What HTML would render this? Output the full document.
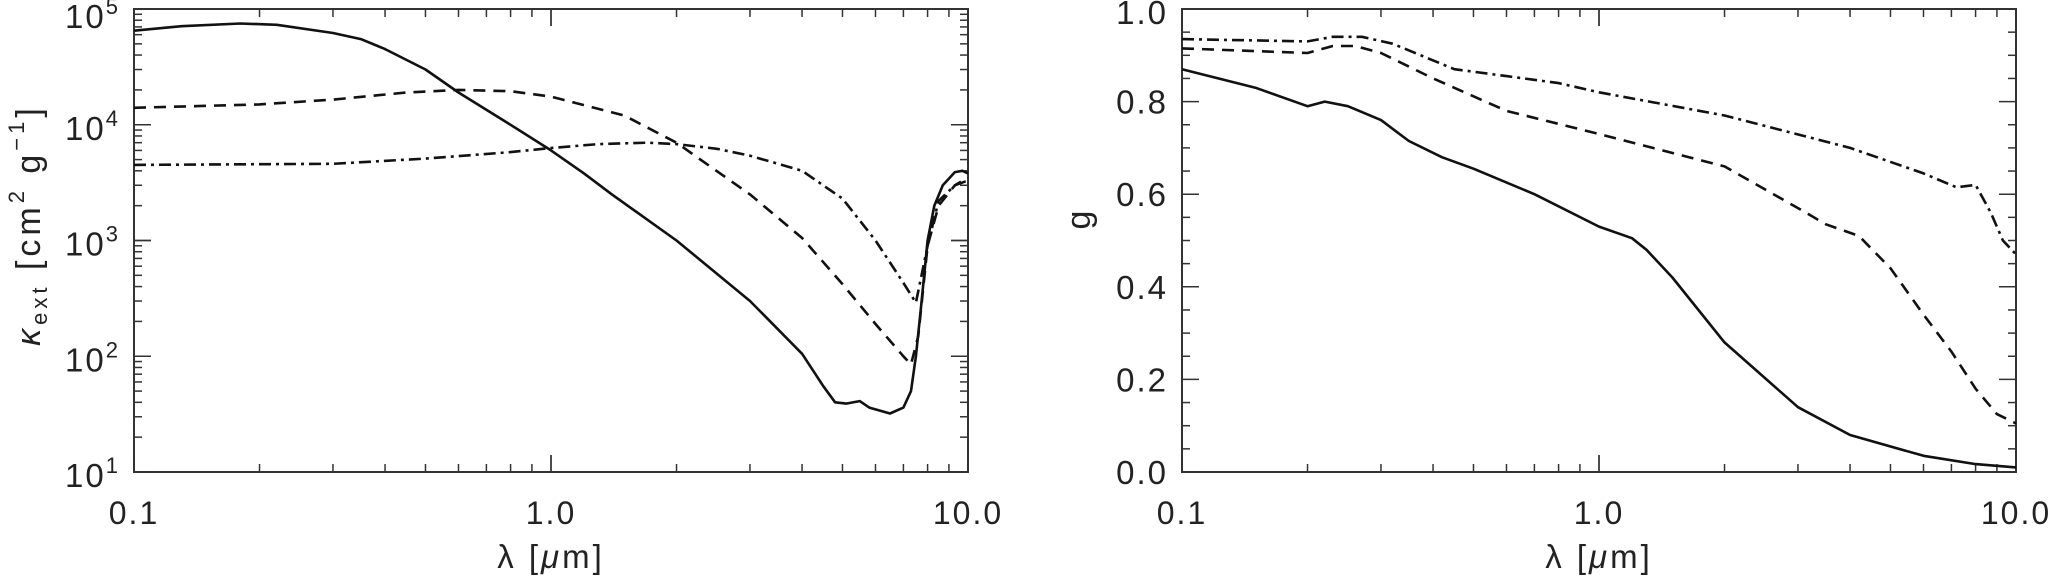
<!DOCTYPE html>
<html><head><meta charset="utf-8">
<style>
html,body{margin:0;padding:0;background:#fff;}
svg{display:block;}
text{font-family:"Liberation Sans",sans-serif;fill:#222;}
</style></head>
<body>
<svg id="s" width="2051" height="577" xmlns="http://www.w3.org/2000/svg"></svg>
<script>
const S=document.getElementById('s');const NS='http://www.w3.org/2000/svg';
function el(t,a,txt){const e=document.createElementNS(NS,t);for(const k in a)e.setAttribute(k,a[k]);if(txt!==undefined)e.textContent=txt;S.appendChild(e);return e;}
const T=9,B=472;
function lx(x0,l){return x0+(Math.log10(l)+1)*417;}
function ly(v){return T+(5-Math.log10(v))*115.75;}
function gy(g){return B-g*463;}
[[134,968],[1182,2016]].forEach(([a,b])=>{
 el('rect',{x:a,y:T,width:b-a,height:B-T,fill:'none',stroke:'#333','stroke-width':2});
 for(let d=0;d<2;d++)for(let m=1;m<=10;m++){const l=Math.pow(10,d-1)*m;const x=lx(a,l);const len=(m==1||m==10)?17:8;
  el('line',{x1:x,y1:B,x2:x,y2:B-len,stroke:'#333','stroke-width':1.5});
  el('line',{x1:x,y1:T,x2:x,y2:T+len,stroke:'#333','stroke-width':1.5});}
 el('text',{x:lx(a,0.1),y:524,'font-size':32,'text-anchor':'middle','letter-spacing':2},'0.1');
 el('text',{x:lx(a,1),y:524,'font-size':32,'text-anchor':'middle','letter-spacing':2},'1.0');
 el('text',{x:lx(a,10),y:524,'font-size':32,'text-anchor':'middle','letter-spacing':2},'10.0');
 const t=el('text',{x:(a+b)/2,y:568,'font-size':33,'text-anchor':'middle','letter-spacing':3});
 t.innerHTML='λ [<tspan font-style="italic">μ</tspan>m]';
});
for(let e=1;e<5;e++)for(let m=1;m<=10;m++){const v=Math.pow(10,e)*m;const y=ly(v);const len=(m==1||m==10)?17:8;
 el('line',{x1:134,y1:y,x2:134+len,y2:y,stroke:'#333','stroke-width':1.5});
 el('line',{x1:968,y1:y,x2:968-len,y2:y,stroke:'#333','stroke-width':1.5});}
for(let e=1;e<=5;e++){const base=ly(Math.pow(10,e))+15+(e==5?4:0);const t=el('text',{x:120,y:base,'font-size':33,'text-anchor':'end','letter-spacing':2});
 t.innerHTML='10<tspan dy="-14" font-size="22">'+e+'</tspan>';}
for(let i=0;i<=20;i++){const y=gy(i*0.05);const len=(i%4==0)?17:8;
 el('line',{x1:1182,y1:y,x2:1182+len,y2:y,stroke:'#333','stroke-width':1.5});
 el('line',{x1:2016,y1:y,x2:2016-len,y2:y,stroke:'#333','stroke-width':1.5});}
for(let i=0;i<=5;i++)el('text',{x:1168,y:gy(i*0.2)+12+(i==5?3:0),'font-size':33,'text-anchor':'end','letter-spacing':2},(i*0.2).toFixed(1));
const yl=el('text',{transform:'translate(40,225) rotate(-90)','font-size':34,'text-anchor':'middle','letter-spacing':4});
yl.innerHTML='<tspan font-style="italic">κ</tspan><tspan dy="7" font-size="22">ext</tspan><tspan dy="-7">  [cm</tspan><tspan dy="-16" font-size="22">2</tspan><tspan dy="16">  g</tspan><tspan dy="-16" font-size="22">−1</tspan><tspan dy="16">]</tspan>';
el('text',{transform:'translate(1090,220) rotate(-90)','font-size':34,'text-anchor':'middle'},'g');
function path(pts,fx,fy,dash){const d=pts.map((p,i)=>(i?'L':'M')+fx(p[0]).toFixed(1)+','+fy(p[1]).toFixed(1)).join(' ');
 const a={d:d,fill:'none',stroke:'#111','stroke-width':2.6,'stroke-linejoin':'round'};if(dash)a['stroke-dasharray']=dash;el('path',a);}
const L=l=>lx(134,l),R=l=>lx(1182,l);
path([[0.1,6.5e4],[0.13,7.1e4],[0.18,7.5e4],[0.22,7.3e4],[0.3,6.2e4],[0.35,5.5e4],[0.4,4.5e4],[0.5,3e4],[0.6,1.9e4],[0.8,1e4],[1,6e3],[1.2,3.8e3],[1.4,2.5e3],[2,1e3],[3,3e2],[4,1.05e2],[4.5,55],[4.8,40],[5.1,39],[5.5,41],[5.8,36],[6.5,32],[7,36],[7.3,50],[7.5,100],[7.7,250],[8,1e3],[8.3,2e3],[8.7,3e3],[9.3,3.9e3],[9.7,4e3],[10,3.8e3]],L,ly);
path([[0.1,1.4e4],[0.2,1.5e4],[0.3,1.65e4],[0.45,1.9e4],[0.6,2e4],[0.8,1.95e4],[1,1.75e4],[1.5,1.2e4],[2,7e3],[3,2.5e3],[4,1.05e3],[5,4.2e2],[6,1.9e2],[7,1e2],[7.3,85],[7.6,150],[8,9e2],[8.5,2e3],[9.3,3e3],[10,3.5e3]],L,ly,'12,8');
path([[0.1,4.5e3],[0.3,4.6e3],[0.5,5.1e3],[0.8,5.8e3],[1,6.3e3],[1.3,6.8e3],[1.7,7e3],[2,6.8e3],[2.5,6.2e3],[3,5.4e3],[4,4e3],[5,2.3e3],[6,1e3],[7,4.3e2],[7.5,2.9e2],[8,9e2],[8.5,2.2e3],[9.3,3e3],[10,3.3e3]],L,ly,'12,5,3,5');
path([[0.1,0.87],[0.15,0.83],[0.2,0.79],[0.22,0.80],[0.25,0.79],[0.3,0.76],[0.35,0.715],[0.42,0.68],[0.5,0.655],[0.7,0.6],[1,0.53],[1.2,0.505],[1.3,0.48],[1.5,0.42],[2,0.28],[3,0.14],[4,0.08],[6,0.035],[8,0.017],[10,0.01]],R,gy);
path([[0.1,0.915],[0.2,0.905],[0.23,0.92],[0.26,0.92],[0.3,0.905],[0.4,0.85],[0.6,0.78],[1,0.73],[2,0.66],[3,0.57],[3.5,0.535],[4.2,0.51],[5,0.44],[6,0.34],[7,0.26],[8,0.18],[9,0.125],[10,0.105]],R,gy,'12,8');
path([[0.1,0.935],[0.2,0.93],[0.23,0.94],[0.27,0.94],[0.32,0.925],[0.45,0.87],[0.6,0.855],[0.8,0.84],[1,0.82],[2,0.77],[4,0.7],[6,0.645],[7.2,0.615],[8,0.62],[8.7,0.56],[9.3,0.5],[10,0.47]],R,gy,'12,5,3,5');
</script>
</body></html>
